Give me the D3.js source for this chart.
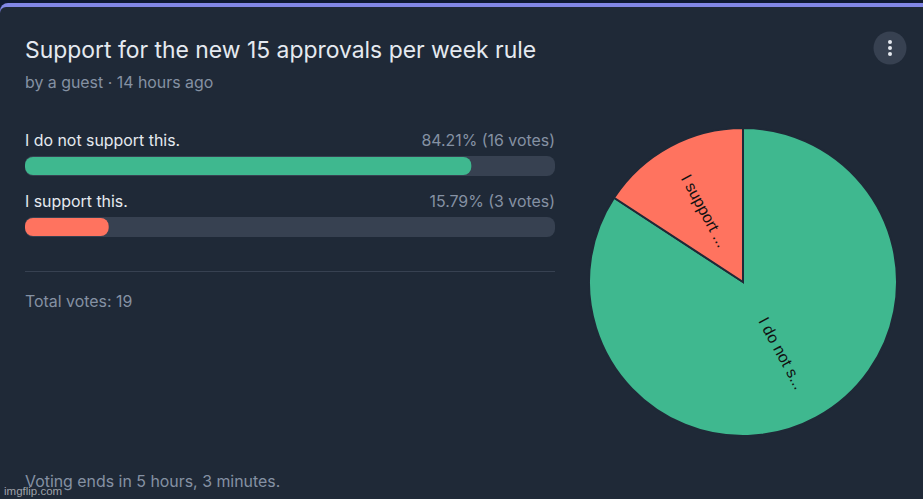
<!DOCTYPE html>
<html>
<head>
<meta charset="utf-8">
<script src="https://cdn.jsdelivr.net/npm/d3@7"></script>
<style>
html, body { margin: 0; padding: 0; background: #1f2937; overflow: hidden; }
svg { display: block; }
text { font-family: Inter, "Noto Sans", sans-serif; }
</style>
</head>
<body>
<div id="chart-area"></div>
<script>
var options = ["I do not support this.", "I support this."];
var shortLabels = ["I do not s...", "I support ..."];
var votes = [16, 3];
var percents = ["84.21%", "15.79%"];
var colors = ["#3fb88f", "#ff735f"];

var svg = d3.select("#chart-area").append("svg")
    .attr("width", 923)
    .attr("height", 499);

// page edge and the purple strip on top of the card
svg.append("rect").attr("width", 923).attr("height", 499).attr("fill", "#101a33");
svg.append("rect").attr("x", 0).attr("y", 3).attr("width", 940).attr("height", 520).attr("rx", 8)
    .attr("fill", "#8287e6");
svg.append("rect").attr("x", 0).attr("y", 7).attr("width", 940).attr("height", 520).attr("rx", 6)
    .attr("fill", "#1f2937");

svg.append("text").attr("x", 25).attr("y", 58)
    .attr("font-size", 22.9).attr("fill", "#e5e9f0")
    .text("Support for the new 15 approvals per week rule");
svg.append("text").attr("x", 25).attr("y", 88)
    .attr("font-size", 15.9).attr("fill", "#8591a3")
    .text("by a guest · 14 hours ago");

// the menu button
svg.append("circle").attr("cx", 890).attr("cy", 48).attr("r", 16.5).attr("fill", "#374151");
svg.selectAll(".dot").data([-6, 0, 6]).enter().append("circle")
    .attr("class", "dot")
    .attr("cx", 890)
    .attr("cy", function(d) { return 48 + d; })
    .attr("r", 2)
    .attr("fill", "#e5e9f0");

// bars
var total = d3.sum(votes);
var x = d3.scaleLinear().domain([0, total]).range([25, 555]);
var y = d3.scalePoint().domain(options).range([156, 217]);
var barHeight = 20;

svg.selectAll(".track").data(options).enter().append("rect")
    .attr("class", "track")
    .attr("x", x(0))
    .attr("y", function(d) { return y(d); })
    .attr("width", x(total) - x(0))
    .attr("height", barHeight)
    .attr("rx", 8)
    .attr("fill", "#374151");

svg.selectAll(".bar").data(votes).enter().append("rect")
    .attr("class", "bar")
    .attr("x", x(0))
    .attr("y", function(d, i) { return y(options[i]) + 1; })
    .attr("width", function(d) { return x(d) - x(0); })
    .attr("height", barHeight - 2)
    .attr("rx", 8)
    .attr("fill", function(d, i) { return colors[i]; });

svg.selectAll(".option").data(options).enter().append("text")
    .attr("class", "option")
    .attr("x", 25)
    .attr("y", function(d) { return y(d) - 10; })
    .attr("font-size", 15.9)
    .attr("fill", "#e5e9f0")
    .text(function(d) { return d; });

svg.selectAll(".count").data(votes).enter().append("text")
    .attr("class", "count")
    .attr("x", 555)
    .attr("y", function(d, i) { return y(options[i]) - 10; })
    .attr("text-anchor", "end")
    .attr("font-size", 15.9)
    .attr("fill", "#8591a3")
    .text(function(d, i) { return percents[i] + " (" + d + " votes)"; });

svg.append("line").attr("x1", 25).attr("x2", 555).attr("y1", 271.5).attr("y2", 271.5)
    .attr("stroke", "#374151");

svg.append("text").attr("x", 25).attr("y", 307)
    .attr("font-size", 15.9).attr("fill", "#8591a3")
    .text("Total votes: " + total);
svg.append("text").attr("x", 25).attr("y", 487)
    .attr("font-size", 15.9).attr("fill", "#8591a3")
    .text("Voting ends in 5 hours, 3 minutes.");

// pie
var pie = d3.pie().sort(null);
var radius = 154;
var arc = d3.arc().innerRadius(0).outerRadius(radius);
var g = svg.append("g").attr("transform", "translate(743,282)");

g.selectAll("path").data(pie(votes)).enter().append("path")
    .attr("d", arc)
    .attr("fill", function(d, i) { return colors[i]; })
    .attr("stroke", "#1f2937")
    .attr("stroke-width", 2);

g.selectAll(".slice-label").data(pie(votes)).enter().append("text")
    .attr("class", "slice-label")
    .attr("transform", function(d) {
        var mid = (d.startAngle + d.endAngle) / 2;
        var px = Math.sin(mid) * 81;
        var py = -Math.cos(mid) * 81;
        var deg = mid * 180 / Math.PI;
        // text runs along the radius, top to bottom
        var rot = deg > 180 ? deg - 270 : deg - 90;
        return "translate(" + px + "," + py + ") rotate(" + rot + ")";
    })
    .attr("text-anchor", "middle")
    .attr("dominant-baseline", "central")
    .style("font-family", "'Liberation Sans', Arial, sans-serif")
    .attr("font-size", 16)
    .attr("fill", "#111111")
    .text(function(d, i) { return shortLabels[i]; });

// watermark
svg.append("text").attr("x", 4).attr("y", 495)
    .attr("font-size", 11.5)
    .attr("fill", "#c9ccd1")
    .attr("fill-opacity", 0.75)
    .style("font-family", "'Liberation Sans', Arial, sans-serif")
    .text("imgflip.com");
</script>
</body>
</html>
